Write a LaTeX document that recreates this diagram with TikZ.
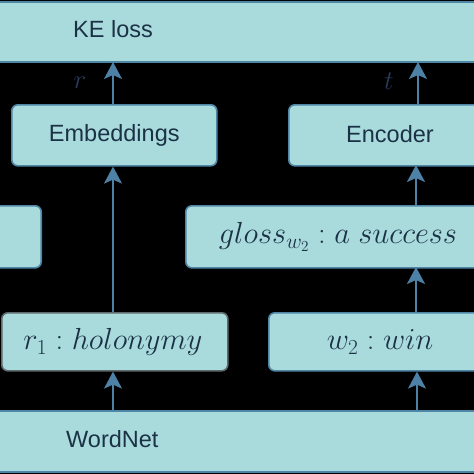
\RequirePackage{fix-cm}
\documentclass[tikz,border=0pt]{standalone}
\usepackage{fontspec}
\setmainfont{Liberation Sans}
\usetikzlibrary{arrows.meta}
\definecolor{boxfill}{HTML}{A9DBDD}
\definecolor{boxedge}{HTML}{4F86A6}
\definecolor{greyedge}{HTML}{5E6B6C}
\definecolor{arrowc}{HTML}{4D82A6}
\definecolor{txt}{HTML}{1B3246}
\definecolor{lbl}{HTML}{2A3A5C}
\tikzset{
  bigbox/.style={draw=boxedge, line width=1.6pt, fill=boxfill},
  rbox/.style={draw=boxedge, line width=1.6pt, fill=boxfill, rounded corners=6pt},
  lab/.style={text=txt, font=\fontsize{23.5}{28}\selectfont, inner sep=0pt},
  mlab/.style={text=txt, font=\fontsize{30.5}{36}\selectfont, inner sep=0pt},
  flow/.style={draw=arrowc, line width=1.6pt, -{Stealth[length=17pt,width=18pt,inset=4pt]}},
  edgelab/.style={text=lbl, font=\fontsize{27}{32}\selectfont, inner sep=0pt}
}
\begin{document}
\begin{tikzpicture}[x=1pt,y=-1pt]
\useasboundingbox (0,0) rectangle (474,474);
\fill[black] (0,0) rectangle (474,474);
% top and bottom bars
\draw[bigbox] (-10,2) rectangle (484,62);
\node[lab, anchor=west] (ke) at (73,29) {KE loss};
\draw[bigbox] (-10,411) rectangle (484,472);
\node[lab, anchor=west] (wn) at (66,439) {WordNet};
\coordinate (keR) at (113,62);
\coordinate (keT) at (418,62);
\coordinate (wnR) at (113,411);
\coordinate (wnW) at (417,411);
% boxes
\node[rbox, minimum width=205pt, minimum height=61pt, anchor=north west] (emb) at (11,104) {};
\node[lab] at (emb.center) {Embeddings};
\node[rbox, minimum width=220pt, minimum height=61pt, anchor=north west] (enc) at (288,104) {};
\node[lab] at (390,134) {Encoder};
\node[rbox, minimum width=60pt, minimum height=62pt, anchor=north east] (lft) at (42,205) {};
\node[rbox, minimum width=320pt, minimum height=62pt, anchor=north west] (gls) at (185,205) {};
\node[mlab] at (338,237) {$gloss_{w_2}:a\;success$};
\node[rbox, draw=greyedge, minimum width=226pt, minimum height=58pt, anchor=north west] (rel) at (1,312) {};
\node[mlab] at (113,342) {$r_1:holonymy$};
\node[rbox, minimum width=230pt, minimum height=58pt, anchor=north west] (wrd) at (268,312) {};
\node[mlab] at (380,342) {$w_2:win$};
% arrows
\draw[flow] (wnR) -- (wnR |- rel.south);
\draw[flow] (wnW) -- (wnW |- wrd.south);
\draw[flow] (rel.north -| wnR) -- (wnR |- emb.south);
\draw[flow] (416,312) -- (416,267);
\draw[flow] (416,205) -- (416,165);
\draw[flow] (emb.north -| keR) -- (keR);
\draw[flow] (enc.north -| keT) -- (keT);
\node[edgelab] at (80,83) {$r$};
\node[edgelab] at (389,81) {$t$};
\end{tikzpicture}
\end{document}
